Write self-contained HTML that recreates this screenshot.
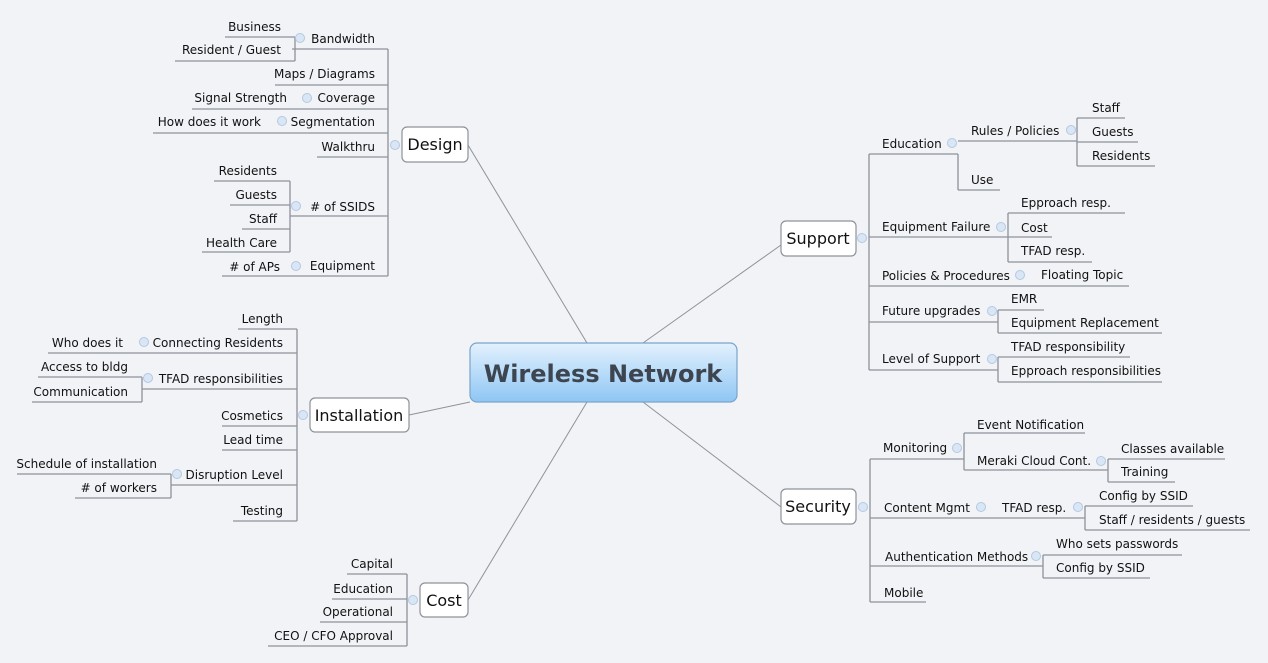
<!DOCTYPE html>
<html><head><meta charset="utf-8"><style>
html,body{margin:0;padding:0;background:#f1f3f7;}
svg{display:block}
text{font-family:"DejaVu Sans","Liberation Sans",sans-serif;font-size:12px;fill:#111;}
.l{text-anchor:end}
.ln{fill:none;stroke:#8e939a;stroke-width:1.3;stroke-linejoin:round}
.c{fill:#d9e6f5;stroke:#b3c8e0;stroke-width:1}
.b{fill:#fff;stroke:#8e939a;stroke-width:1.2}
</style></head><body>
<svg width="1268" height="663" viewBox="0 0 1268 663">
<defs><linearGradient id="g" x1="0" y1="0" x2="0" y2="1"><stop offset="0" stop-color="#e3f1fd"/><stop offset="1" stop-color="#8fc6f4"/></linearGradient></defs>
<!-- main connectors -->
<g stroke="#8e939a" stroke-width="1">
<line x1="468" y1="145" x2="587" y2="343"/>
<line x1="409" y1="415" x2="470" y2="402"/>
<line x1="468" y1="600" x2="587" y2="402"/>
<line x1="643" y1="343" x2="781" y2="245"/>
<line x1="643" y1="402" x2="781" y2="507"/>
</g>
<!-- DESIGN -->
<path class="ln" d="M388 49 V276"/>
<path class="ln" d="M292 49 H388 M225 37 H295 M175 61 H295 M295 37 V61"/>
<path class="ln" d="M275 85 H388 M192 109 H388 M153 133 H388 M317 157 H388"/>
<path class="ln" d="M290 216 H388 M214 181 H290 M230 205 H290 M242 229 H290 M202 252 H290 M290 181 V252"/>
<path class="ln" d="M222 276 H388"/>
<text class="l" x="281" y="31">Business</text>
<text class="l" x="281" y="54">Resident / Guest</text>
<text class="l" x="375" y="43">Bandwidth</text>
<text class="l" x="375" y="78">Maps / Diagrams</text>
<text class="l" x="287" y="102">Signal Strength</text>
<text class="l" x="375" y="102">Coverage</text>
<text class="l" x="261" y="126">How does it work</text>
<text class="l" x="375" y="126">Segmentation</text>
<text class="l" x="375" y="151">Walkthru</text>
<text class="l" x="277" y="175">Residents</text>
<text class="l" x="277" y="199">Guests</text>
<text class="l" x="277" y="223">Staff</text>
<text class="l" x="277" y="247">Health Care</text>
<text class="l" x="375" y="211">&#35; of SSIDS</text>
<text class="l" x="280" y="271">&#35; of APs</text>
<text class="l" x="375" y="270">Equipment</text>
<circle class="c" cx="300" cy="38" r="4.5"/><circle class="c" cx="307" cy="98" r="4.5"/><circle class="c" cx="282" cy="121" r="4.5"/><circle class="c" cx="395" cy="145" r="4.5"/><circle class="c" cx="296" cy="206" r="4.5"/><circle class="c" cx="296" cy="266" r="4.5"/>
<rect class="b" x="402" y="127" width="66" height="35" rx="5"/>
<text x="435" y="150" style="font-size:16px;text-anchor:middle">Design</text>
<!-- INSTALLATION -->
<path class="ln" d="M297 329 V521 M238 329 H297 M48 353 H297 M142 389 H297 M38 377 H142 M32 402 H142 M142 377 V402 M222 426 H297 M222 450 H297 M171 485 H297 M17 474 H171 M75 498 H171 M171 474 V498 M233 521 H297"/>
<text class="l" x="283" y="323">Length</text>
<text class="l" x="123" y="347">Who does it</text>
<text class="l" x="283" y="347">Connecting Residents</text>
<text class="l" x="128" y="371">Access to bldg</text>
<text class="l" x="128" y="396">Communication</text>
<text class="l" x="283" y="383">TFAD responsibilities</text>
<text class="l" x="283" y="420">Cosmetics</text>
<text class="l" x="283" y="444">Lead time</text>
<text class="l" x="157" y="468">Schedule of installation</text>
<text class="l" x="157" y="492">&#35; of workers</text>
<text class="l" x="283" y="479">Disruption Level</text>
<text class="l" x="283" y="515">Testing</text>
<circle class="c" cx="144" cy="342" r="4.5"/><circle class="c" cx="148" cy="378" r="4.5"/><circle class="c" cx="177" cy="474" r="4.5"/><circle class="c" cx="303" cy="415" r="4.5"/>
<rect class="b" x="310" y="398" width="99" height="34" rx="5"/>
<text x="359" y="421" style="font-size:16px;text-anchor:middle">Installation</text>
<!-- COST -->
<path class="ln" d="M407 574 V646 M347 574 H407 M332 599 H407 M320 622 H407 M268 646 H407"/>
<text class="l" x="393" y="568">Capital</text>
<text class="l" x="393" y="593">Education</text>
<text class="l" x="393" y="616">Operational</text>
<text class="l" x="393" y="640">CEO / CFO Approval</text>
<circle class="c" cx="413" cy="600" r="4.5"/>
<rect class="b" x="420" y="583" width="48" height="34" rx="5"/>
<text x="444" y="606" style="font-size:16px;text-anchor:middle">Cost</text>
<!-- CENTER -->
<rect x="470" y="343" width="267" height="59" rx="7" fill="url(#g)" stroke="#7aa4cc" stroke-width="1.2"/>
<text x="603" y="382" style="font-size:24px;font-weight:bold;fill:#3d4650;text-anchor:middle">Wireless Network</text>
<!-- SUPPORT -->
<path class="ln" d="M869 154 V322 M869 154 H958 M958 154 V190 M958 141 H1077 M1077 118 V166 M1077 118 H1125 M1077 142 H1138 M1077 166 H1155 M958 190 H1000"/>
<path class="ln" d="M869 237 H1052 M1008 213 V262 M1008 213 H1125 M1008 262 H1092 M869 286 H1129 M869 322 H998 M998 310 V333 M998 310 H1044 M998 333 H1162 M869 370 H998 M998 357 V382 M998 357 H1130 M998 382 H1162"/>
<path class="ln" d="M869 322 V370"/>
<text x="882" y="148">Education</text>
<text x="971" y="135">Rules / Policies</text>
<text x="1092" y="112">Staff</text>
<text x="1092" y="136">Guests</text>
<text x="1092" y="160">Residents</text>
<text x="971" y="184">Use</text>
<text x="882" y="231">Equipment Failure</text>
<text x="1021" y="207">Epproach resp.</text>
<text x="1021" y="232">Cost</text>
<text x="1021" y="255">TFAD resp.</text>
<text x="882" y="280">Policies &amp; Procedures</text>
<text x="1041" y="279">Floating Topic</text>
<text x="882" y="315">Future upgrades</text>
<text x="1011" y="303">EMR</text>
<text x="1011" y="327">Equipment Replacement</text>
<text x="882" y="363">Level of Support</text>
<text x="1011" y="351">TFAD responsibility</text>
<text x="1011" y="375">Epproach responsibilities</text>
<circle class="c" cx="952" cy="143" r="4.5"/><circle class="c" cx="1071" cy="130" r="4.5"/><circle class="c" cx="1001" cy="227" r="4.5"/><circle class="c" cx="1020" cy="275" r="4.5"/><circle class="c" cx="992" cy="311" r="4.5"/><circle class="c" cx="992" cy="359" r="4.5"/><circle class="c" cx="862" cy="238" r="4.5"/>
<rect class="b" x="781" y="221" width="75" height="35" rx="5"/>
<text x="818" y="244" style="font-size:16px;text-anchor:middle">Support</text>
<!-- SECURITY -->
<path class="ln" d="M870 459 V602 M870 459 H964 M964 433 V470 M964 433 H1085 M964 470 H1108 M1108 459 V482 M1108 459 H1225 M1108 482 H1175"/>
<path class="ln" d="M870 518 H1085 M1085 506 V530 M1085 506 H1193 M1085 530 H1250 M870 566 H1043 M1043 555 V578 M1043 555 H1182 M1043 578 H1150 M870 602 H926"/>
<text x="883" y="452">Monitoring</text>
<text x="977" y="429">Event Notification</text>
<text x="977" y="465">Meraki Cloud Cont.</text>
<text x="1121" y="453">Classes available</text>
<text x="1121" y="476">Training</text>
<text x="884" y="512">Content Mgmt</text>
<text x="1002" y="512">TFAD resp.</text>
<text x="1099" y="500">Config by SSID</text>
<text x="1099" y="524">Staff / residents / guests</text>
<text x="885" y="561">Authentication Methods</text>
<text x="1056" y="548">Who sets passwords</text>
<text x="1056" y="572">Config by SSID</text>
<text x="884" y="597">Mobile</text>
<circle class="c" cx="957" cy="448" r="4.5"/><circle class="c" cx="1101" cy="461" r="4.5"/><circle class="c" cx="981" cy="507" r="4.5"/><circle class="c" cx="1078" cy="507" r="4.5"/><circle class="c" cx="1036" cy="556" r="4.5"/><circle class="c" cx="863" cy="507" r="4.5"/>
<rect class="b" x="781" y="489" width="75" height="35" rx="5"/>
<text x="818" y="512" style="font-size:16px;text-anchor:middle">Security</text>
</svg>
</body></html>
